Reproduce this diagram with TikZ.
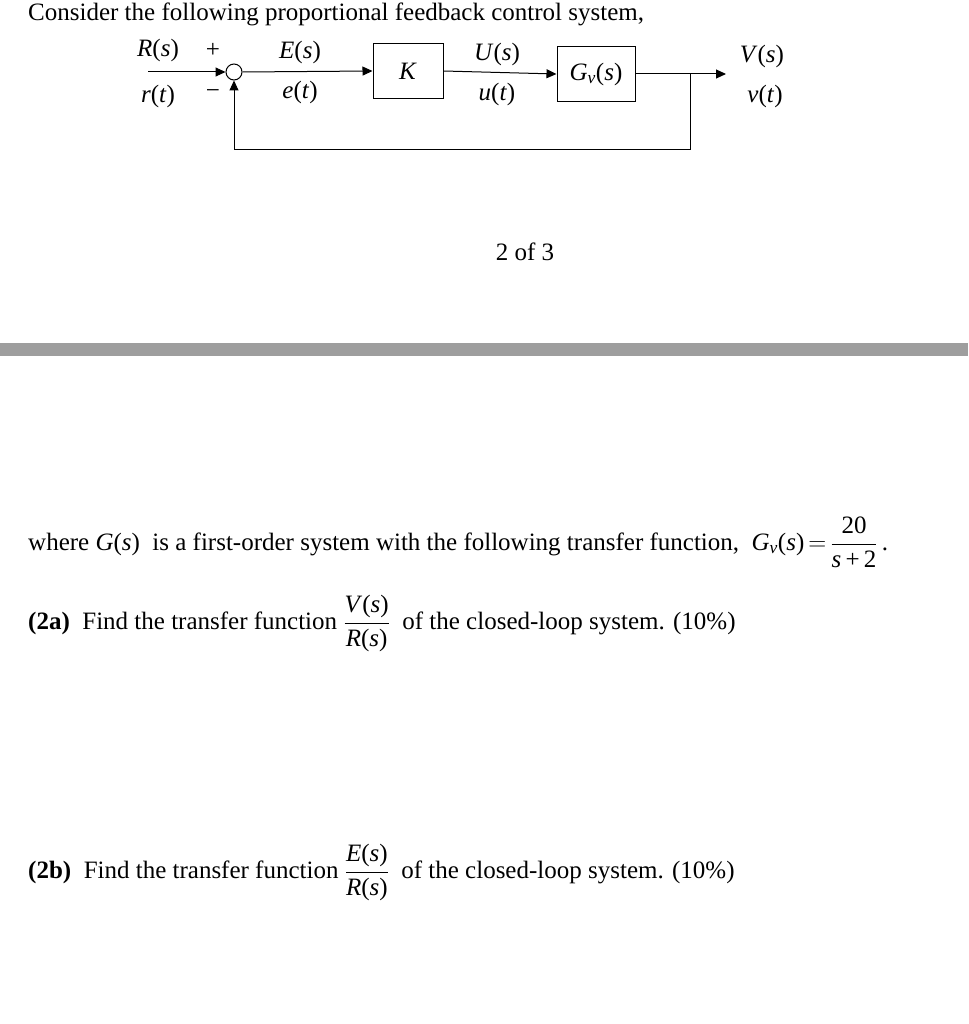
\documentclass[tikz,border=0pt]{standalone}
\usepackage{fontspec}
\setmainfont{Liberation Serif}
\usetikzlibrary{arrows.meta}
\newcommand{\vi}[1]{\textit{#1}}
\newcommand{\sv}{\textsubscript{\vi{v}}}
\newcommand{\fr}[2]{$\displaystyle\frac{\mbox{#1}}{\mbox{#2}}$}
\begin{document}
\begin{tikzpicture}[x=1pt,y=-1pt,
  txt/.style={inner sep=0pt,font=\fontsize{25}{29}\selectfont},
  lbl/.style={inner sep=0pt,font=\fontsize{25}{29}\selectfont},
  blk/.style={draw,line width=1pt,inner sep=0pt},
  ln/.style={line width=1pt},
  arr/.style={ln,-{Triangle[length=10pt,width=9pt]}}]
\useasboundingbox (0,0) rectangle (968,1024);
\node[txt,anchor=west] (title) at (28,14) {Consider the following proportional feedback control system,};
% block diagram
\coordinate (in) at (148,72);
\node[draw,circle,minimum size=16pt,inner sep=0pt,line width=1pt] (sum) at (234,72) {};
\node[blk,minimum width=70pt,minimum height=55pt] (K) at (408,71) {\fontsize{25}{29}\selectfont\vi{K}};
\node[blk,minimum width=78pt,minimum height=55pt] (G) at (596,74) {\fontsize{25}{29}\selectfont\vi{G}\sv(\vi{s})};
\coordinate (tap) at (690,74);
\coordinate (out) at (726,74);
\coordinate (bl) at (690,150);
\coordinate (br) at (234,150);
\draw[arr] (in) -- (sum.west);
\draw[arr] (sum.east) -- (K.west);
\draw[arr] (K.east) -- (G.west);
\draw[arr] (G.east) -- (out);
\draw[arr] (tap) -- (bl) -- (br) -- (sum.south);
\node[lbl] (R) at (158,50) {\vi{R}(\vi{s})};
\node[lbl] (r) at (158,96) {\vi{r}(\vi{t})};
\node[lbl] (plus) at (213,50) {+};
\node[lbl] (minus) at (213,94) {\textminus};
\node[lbl] (E) at (300,52) {\vi{E}(\vi{s})};
\node[lbl] (e) at (300,92) {\vi{e}(\vi{t})};
\node[lbl] (U) at (497,54) {\vi{U}(\vi{s})};
\node[lbl] (u) at (497,94) {\vi{u}(\vi{t})};
\node[lbl] (V) at (762,56) {\vi{V}(\vi{s})};
\node[lbl] (v) at (765,96) {\vi{v}(\vi{t})};
\node[txt] (page) at (525,252) {2 of 3};
\fill[black!38] (0,343) rectangle (968,356);
\node[txt,anchor=base west] (where) at (28,550) {where \vi{G}(\vi{s}) \ is a first-order system with the following transfer function, \ \vi{G}\sv(\vi{s})$\,=\,$\fr{20}{\vi{s}\,+\,2}\,.};
\node[txt,anchor=base west] (q2a) at (28,629) {\textbf{(2a)} \ Find the transfer function \fr{\vi{V}(\vi{s})}{\vi{R}(\vi{s})} \ of the closed-loop system. (10\%)};
\node[txt,anchor=base west] (q2b) at (28,878) {\textbf{(2b)} \ Find the transfer function \fr{\vi{E}(\vi{s})}{\vi{R}(\vi{s})} \ of the closed-loop system. (10\%)};
\end{tikzpicture}
\end{document}
